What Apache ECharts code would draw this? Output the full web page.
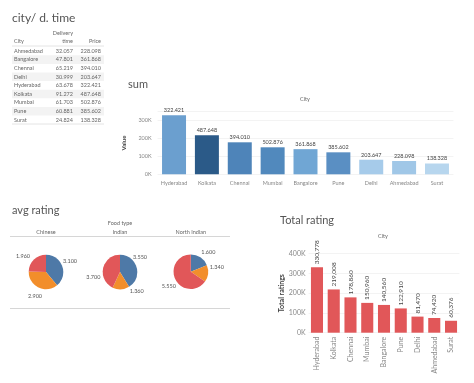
<!DOCTYPE html>
<html><head><meta charset="utf-8">
<script src="https://cdn.jsdelivr.net/npm/echarts@6/dist/echarts.min.js"></script>
<style>html,body{margin:0;padding:0;background:#fff}#c{width:474px;height:383px}</style>
</head><body><div id="c"></div>
<script>
// ---- data ----
const cities = ['Ahmedabad','Bangalore','Chennai','Delhi','Hyderabad','Kolkata','Mumbai','Pune','Surat'];
const deliveryTime = ['32.057','47.801','65.219','30.999','63.678','91.272','61.703','60.881','24.824'];
const price = ['228.098','361.868','394.010','203.647','322.421','487.648','502.876','385.602','138.328'];
const totalRatings = [74420,140560,178860,81470,330778,219008,150960,122910,60376];
const foodTypes = ['Chinese','Indian','North Indian'];
const ratingBlue = [3.100,3.550,1.600];
const ratingOrange = [2.900,1.360,1.340];
const ratingRed = [1.960,3.700,5.550];
const valueTicks = ['0K','100K','200K','300K','400K'];

// ---- styles / layout ----
const FONT = 'Lato, "Open Sans", sans-serif';
const sumColors = {Hyderabad:'#6b9fcf',Kolkata:'#2b5a88',Chennai:'#4e84b9',Mumbai:'#5189bd',Bangalore:'#70a6d4',Pune:'#5a8fc3',Delhi:'#a6cbea',Ahmedabad:'#a0c7e7',Surat:'#b7d6ee'};
const pieColors = ['#4e79a7','#f28e2b','#e15759'];
const pieCenters = [[46,272],[120,272],[190.8,271.7]];
// label placement relative to each pie's centre (blue, orange, red)
const pieLabelOffsets = [
  [[24,-11],[-11,24.7],[-23,-15.3]],
  [[20,-14.7],[16.7,19.7],[-26.7,5.7]],
  [[17.5,-19],[26,-4],[-22,15]]
];

const order = cities.map((c,i)=>i).sort((a,b)=>totalRatings[b]-totalRatings[a]);
const orderedCities = order.map(i=>cities[i]);

const chart = echarts.init(document.getElementById('c'));

const g = [];
function txt(x,y,t,opt){g.push({type:'text',silent:true,style:Object.assign({x:x,y:y,text:t,fill:'#666',fontSize:5.5,fontFamily:FONT,align:'left',verticalAlign:'middle'},opt||{})});}
txt(12,18,'city/ d. time',{fontSize:12,fill:'#555'});
txt(73,33.5,'Delivery',{align:'right'});
txt(73,41.5,'time',{align:'right'});
txt(14,41.5,'City');
txt(101,41.5,'Price',{align:'right'});
cities.forEach((c,i)=>{
  const y = 51 + i*8.6;
  if(i%2===1) g.push({type:'rect',silent:true,z:-1,shape:{x:12,y:y-4.3,width:92,height:8.6},style:{fill:'#f3f3f3'}});
  txt(14,y,c);
  txt(73,y,deliveryTime[i],{align:'right'});
  txt(101,y,price[i],{align:'right'});
});
g.push({type:'line',silent:true,shape:{x1:12,y1:46,x2:104,y2:46},style:{stroke:'#ddd',lineWidth:0.8}});
g.push({type:'line',silent:true,shape:{x1:12,y1:124,x2:104,y2:124},style:{stroke:'#ddd',lineWidth:0.8}});

txt(128,84,'sum',{fontSize:11,fill:'#555'});
txt(305,99,'City',{align:'center',fontSize:5.5});
txt(12,210,'avg rating',{fontSize:11,fill:'#555'});
txt(120,223,'Food type',{align:'center',fontSize:5.5});
foodTypes.forEach((f,i)=>txt(pieCenters[i][0],232,f,{align:'center',fontSize:5.5}));
g.push({type:'line',silent:true,shape:{x1:10,y1:236.5,x2:230,y2:236.5},style:{stroke:'#ccc',lineWidth:0.8}});
g.push({type:'line',silent:true,shape:{x1:10,y1:308.5,x2:230,y2:308.5},style:{stroke:'#ccc',lineWidth:0.8}});
txt(280,220,'Total rating',{fontSize:11,fill:'#555'});
txt(383,236,'City',{align:'center',fontSize:5.5});

const axisLab = {color:'#888',fontSize:5.5,fontFamily:FONT};
const axisLab2 = {color:'#888',fontSize:7,fontFamily:FONT};

const pieSeries = foodTypes.map((f,i)=>({
  type:'pie', center:pieCenters[i], radius:17.3, startAngle:90, clockwise:true,
  silent:true, animation:false, avoidLabelOverlap:false,
  label:{show:true,position:'outside',overflow:'none',color:'#555',fontSize:5.5,fontFamily:FONT,formatter:p=>p.value.toFixed(3)},
  labelLine:{show:false},
  labelLayout:(p)=>{
    const o = pieLabelOffsets[i][p.dataIndex];
    return {x:pieCenters[i][0]+o[0], y:pieCenters[i][1]+o[1], align:'center', verticalAlign:'middle'};
  },
  data:[
    {value:ratingBlue[i],name:'a',itemStyle:{color:pieColors[0]}},
    {value:ratingOrange[i],name:'b',itemStyle:{color:pieColors[1]}},
    {value:ratingRed[i],name:'c',itemStyle:{color:pieColors[2]}}
  ]
}));

chart.setOption({
  animation:false,
  textStyle:{fontFamily:FONT},
  graphic:g,
  grid:[
    {left:157.6,width:295.8,top:111.7,height:62.6},
    {left:308.6,width:150.8,top:253.7,height:79}
  ],
  xAxis:[
    {gridIndex:0,type:'category',data:orderedCities,axisLine:{show:false},axisTick:{show:false},
     axisLabel:Object.assign({margin:6,interval:0},axisLab)},
    {gridIndex:1,type:'category',data:orderedCities,axisLine:{show:false},axisTick:{show:false},
     axisLabel:Object.assign({margin:4,interval:0,rotate:90},axisLab2)}
  ],
  yAxis:[
    {gridIndex:0,type:'value',min:0,max:350000,interval:100000,
     axisLabel:Object.assign({margin:6,formatter:(v)=>valueTicks[v/100000]},axisLab),
     splitLine:{lineStyle:{color:'#f0f0f0',width:0.8}},
     name:'Value',nameLocation:'middle',nameGap:22,nameRotate:90,nameTextStyle:{color:'#444',fontSize:6,fontWeight:'bold',fontFamily:FONT}},
    {gridIndex:1,type:'value',min:0,max:400000,interval:100000,
     axisLabel:Object.assign({margin:3,formatter:(v)=>valueTicks[v/100000]},axisLab2),
     splitLine:{lineStyle:{color:'#f0f0f0',width:0.8}},
     name:'Total ratings',nameLocation:'middle',nameGap:22,nameRotate:90,nameTextStyle:{color:'#444',fontSize:7,fontWeight:'bold',fontFamily:FONT}}
  ],
  series:[
    {type:'bar',xAxisIndex:0,yAxisIndex:0,barCategoryGap:'27%',silent:true,
     data:order.map(i=>({value:totalRatings[i],itemStyle:{color:sumColors[cities[i]]}})),
     label:{show:true,position:'top',distance:2,color:'#444',fontSize:5.5,fontFamily:FONT,formatter:p=>price[order[p.dataIndex]]}},
    {type:'bar',xAxisIndex:1,yAxisIndex:1,barCategoryGap:'28%',silent:true,
     itemStyle:{color:'#e15759'},
     data:order.map(i=>totalRatings[i]),
     label:{show:true,position:'top',rotate:90,align:'left',verticalAlign:'middle',distance:3,color:'#444',fontSize:6.5,fontFamily:FONT,
       formatter:p=>p.value.toLocaleString('en-US')}}
  ].concat(pieSeries)
});
</script></body></html>
